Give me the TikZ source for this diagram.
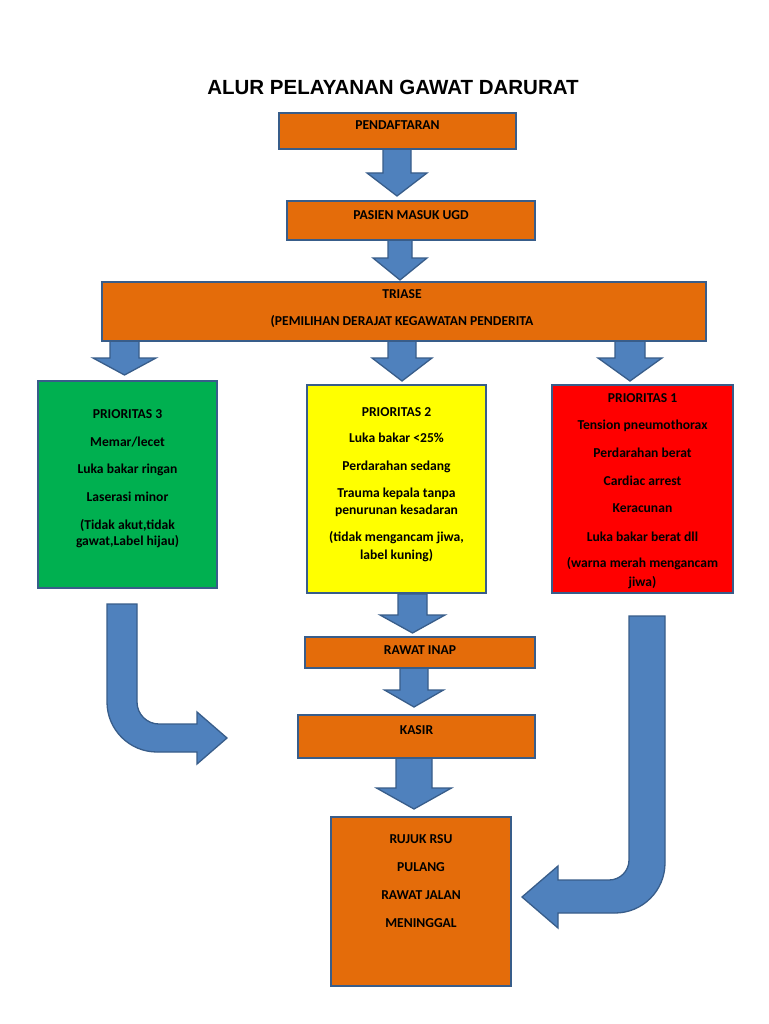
\documentclass[tikz,border=0pt]{standalone}
\usepackage{fontspec}
\setmainfont{Carlito}
\newfontfamily\titlefont{Liberation Sans}
\definecolor{orng}{HTML}{E46C0A}
\definecolor{bline}{HTML}{385D8A}
\definecolor{afill}{HTML}{4F81BD}
\definecolor{grn}{HTML}{00B050}
\definecolor{ylw}{HTML}{FFFF00}
\definecolor{rd}{HTML}{FF0000}
\tikzset{
  box/.style={draw=bline, line width=1.8pt, inner sep=0pt, outer sep=0pt},
  txt/.style={font=\bfseries\fontsize{13.6}{16}\selectfont, text=black, inner sep=0pt, anchor=base},
  blk/.style={fill=afill, draw=bline, line width=1.3pt, line join=miter},
}
% block arrow pointing down: centre x, top y, tip y, shaft half-width, head half-width, head start y
\newcommand\dnarrow[6]{%
  \draw[blk] (#1-#4,#2) -- (#1+#4,#2) -- (#1+#4,#6) -- (#1+#5,#6) -- (#1,#3)
    -- (#1-#5,#6) -- (#1-#4,#6) -- cycle;}
% text line: name, x, centre y, text
\newcommand\tl[4]{\node[txt] (#1) at (#2,#3+4.4) {#4};}
\begin{document}
\begin{tikzpicture}[x=1pt,y=-1pt]
\useasboundingbox (0,0) rectangle (768,1024);
\fill[white] (0,0) rectangle (768,1024);

% title
\node[font=\titlefont\bfseries\fontsize{20.5}{24}\selectfont, inner sep=0pt] (title) at (393,87) {ALUR PELAYANAN GAWAT DARURAT};

% block arrows (drawn under boxes)
\dnarrow{397}{149}{196}{14}{30}{173}
\dnarrow{400}{240}{280}{12}{27}{258}
\dnarrow{124.5}{341}{375}{14.5}{31.5}{358}
\dnarrow{402}{341}{381}{14}{30}{358}
\dnarrow{630}{341}{381}{15}{32}{358}
\dnarrow{412.5}{594}{633}{14.5}{32.5}{615}
\dnarrow{414}{668}{707}{14}{29.5}{690}
\dnarrow{414}{758}{809}{18}{37.5}{788}

% bent arrow left (prioritas 3 -> kasir)
\draw[blk] (107,604) -- (107,702) .. controls (107,729.6) and (129.4,752) .. (157,752)
  -- (197,752) -- (197,764) -- (227,738) -- (197,712) -- (197,724) -- (159,724)
  .. controls (146.85,724) and (137,714.15) .. (137,702) -- (137,604) -- cycle;
% bent arrow right (prioritas 1 -> akhir)
\draw[blk] (629,616) -- (665,616) -- (665,863) .. controls (665,890.6) and (642.6,913) .. (615,913)
  -- (558,913) -- (558,928) -- (522,897) -- (558,866) -- (558,880) -- (609,880)
  .. controls (620.05,880) and (629,871.05) .. (629,860) -- cycle;

% boxes
\node[box, fill=orng, minimum width=237pt, minimum height=36pt] (pend) at (397.5,131) {};
\node[box, fill=orng, minimum width=248pt, minimum height=39pt] (pasien) at (411,220.5) {};
\node[box, fill=orng, minimum width=604pt, minimum height=59pt] (triase) at (404,311.5) {};
\node[box, fill=grn, minimum width=179pt, minimum height=207pt] (p3) at (127.5,484.5) {};
\node[box, fill=ylw, minimum width=179pt, minimum height=208pt] (p2) at (396.5,489) {};
\node[box, fill=rd, minimum width=181pt, minimum height=208pt] (p1) at (642.5,489) {};
\node[box, fill=orng, minimum width=230pt, minimum height=31pt] (inap) at (420,652.5) {};
\node[box, fill=orng, minimum width=237pt, minimum height=43pt] (kasir) at (416.5,736.5) {};
\node[box, fill=orng, minimum width=180pt, minimum height=169pt] (akhir) at (421,901.5) {};

% texts
\tl{tpend}{397.5}{125}{PENDAFTARAN}
\tl{tpasien}{411}{215}{PASIEN MASUK UGD}
\tl{ttri1}{402}{294}{TRIASE}
\tl{ttri2}{402}{321}{(PEMILIHAN DERAJAT KEGAWATAN PENDERITA}

\tl{tp3a}{127.5}{414}{PRIORITAS 3}
\tl{tp3b}{127.5}{442}{Memar/lecet}
\tl{tp3c}{127.5}{469}{Luka bakar ringan}
\tl{tp3d}{127.5}{497}{Laserasi minor}
\tl{tp3e}{127.5}{525}{(Tidak akut,tidak}
\tl{tp3f}{127.5}{541}{gawat,Label hijau)}

\tl{tp2a}{396.5}{412}{PRIORITAS 2}
\tl{tp2b}{396.5}{438}{Luka bakar <25\%}
\tl{tp2c}{396.5}{466}{Perdarahan sedang}
\tl{tp2d}{396.5}{493}{Trauma kepala tanpa}
\tl{tp2e}{396.5}{510}{penurunan kesadaran}
\tl{tp2f}{396.5}{537}{(tidak mengancam jiwa,}
\tl{tp2g}{396.5}{555}{label kuning)}

\tl{tp1a}{642.5}{398}{PRIORITAS 1}
\tl{tp1b}{642.5}{425}{Tension pneumothorax}
\tl{tp1c}{642.5}{453}{Perdarahan berat}
\tl{tp1d}{642.5}{481}{Cardiac arrest}
\tl{tp1e}{642.5}{508}{Keracunan}
\tl{tp1f}{642.5}{537}{Luka bakar berat dll}
\tl{tp1g}{642.5}{563}{(warna merah mengancam}
\tl{tp1h}{642.5}{582}{jiwa)}

\tl{tinap}{420}{650}{RAWAT INAP}
\tl{tkasir}{416.5}{730}{KASIR}

\tl{tak1}{421}{839}{RUJUK RSU}
\tl{tak2}{421}{867}{PULANG}
\tl{tak3}{421}{895}{RAWAT JALAN}
\tl{tak4}{421}{923}{MENINGGAL}
\end{tikzpicture}
\end{document}
